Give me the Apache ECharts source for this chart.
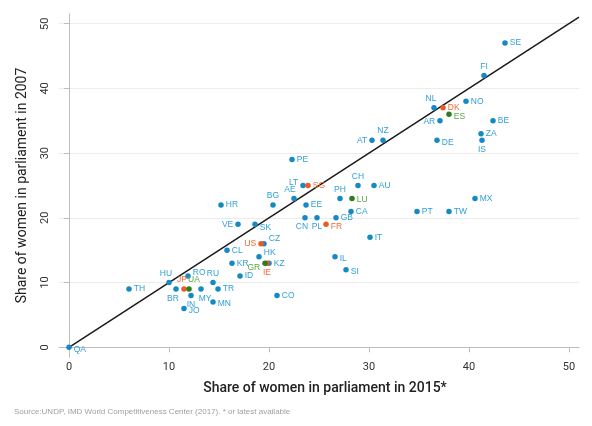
<!DOCTYPE html>
<html>
<head>
<meta charset="utf-8">
<script src="https://cdn.jsdelivr.net/npm/echarts@6/dist/echarts.min.js"></script>
<style>
html,body{margin:0;padding:0;background:#fff;}
#chart{width:592px;height:426px;}
</style>
</head>
<body>
<div id="chart"></div>
<script>
// country codes, 2015 share (x) and 2007 share (y)
var countries = ['SE','FI','NO','NL','DK','ES','AR','BE','ZA','AT','NZ','DE','IS','PE','LT','SG','CH','AU','AE','PH','LU','HR','BG','EE','MX','CA','PT','TW','CN','PL','GB','FR','VE','SK','IT','CZ','US','CL','IL','HK','KR','GR','IE','KZ','SI','ID','RO','HU','RU','TH','BR','JP','UA','MY','TR','IN','CO','MN','JO','QA'];
var share2015 = [43.6,41.5,39.7,36.5,37.4,38.0,37.1,42.4,41.2,30.3,31.4,36.8,41.3,22.3,23.4,23.9,28.9,30.5,22.5,27.1,28.3,15.2,20.4,23.7,40.6,28.2,34.8,38.0,23.6,24.8,26.7,25.7,16.9,18.6,30.1,19.5,19.2,15.8,26.6,19.0,16.3,19.6,19.8,20.0,27.7,17.1,11.9,10.0,14.4,6.0,10.7,11.5,12.0,13.2,14.9,12.2,20.8,14.4,11.5,0];
var share2007 = [47,42,38,37,37,36,35,35,33,32,32,32,32,29,25,25,25,25,23,23,23,22,22,22,23,21,21,21,20,20,20,19,19,19,17,16,16,15,14,14,13,13,13,13,12,11,11,10,10,9,9,9,9,9,9,8,8,7,6,0];
var orangeGroup = ['DK','SG','FR','US','IE','JP'];
var greenGroup = ['ES','LU','GR','UA'];
var ticks = [0,10,20,30,40,50];

// label placement (style only)
var labelPos = {
	NL:['top',[-3,0]], AR:['left',[0,1]], IS:['bottom',[0,0]], FI:['top',[0,0]], VE:['left',[0,0]],
	HU:['top',[-3,0]], BR:['bottom',[-3,0]], JP:['top',[-2,0]], UA:['top',[5,0]], IN:['bottom',[0,0]],
	JO:['right',[0,2]], MY:['bottom',[4,0]], MN:['right',[0,2]], RU:['top',[0,0]], RO:['right',[0,-3]],
	QA:['right',[0,2]], GR:['left',[0,4]], IE:['bottom',[0,0]], HK:['right',[0,-4]], CZ:['right',[0,-5]],
	US:['left',[0,0]], SK:['right',[0,3]], LT:['left',[0,-3]], CH:['top',[0,0]], AE:['top',[-4,0]],
	PH:['top',[0,0]], BG:['top',[0,0]], CN:['bottom',[-3,0]], PL:['bottom',[0,0]], FR:['right',[0,2]],
	IL:['right',[0,2]], SI:['right',[0,2]], ES:['right',[0,2]], AT:['left',[0,0]], NZ:['top',[0,0]],
	DE:['right',[0,2]], LU:['right',[0,1]], KZ:['right',[0,0]]
};

var colors = {
	blue:{dot:'#1589c6', text:'#2fa0d6'},
	orange:{dot:'#ee5a24', text:'#f06a35'},
	green:{dot:'#2c7d1f', text:'#5aa843'}
};

var buildData = function (group) {
	var out = [];
	countries.forEach(function (c, i) {
		var g = orangeGroup.indexOf(c) >= 0 ? 'orange' : (greenGroup.indexOf(c) >= 0 ? 'green' : 'blue');
		if (g !== group) return;
		var p = labelPos[c] || ['right',[0,0]];
		out.push({
			value:[share2015[i], share2007[i], c],
			label:{position:p[0], offset:p[1]}
		});
	});
	return out;
};

var scatterSeries = function (group) {
	return {
		type:'scatter',
		symbolSize:5.5,
		z:3,
		itemStyle:{color:colors[group].dot, opacity:1},
		label:{
			show:true,
			formatter:function (p) { return p.value[2]; },
			color:colors[group].text,
			fontSize:8.5,
			fontFamily:'Liberation Sans',
			distance:2
		},
		data:buildData(group)
	};
};

var chart = echarts.init(document.getElementById('chart'));
var axisFont = 'Roboto';
var option = {
	animation:false,
	grid:{left:59, right:13, top:14, bottom:69},
	xAxis:{
		type:'value',
		min:-1,
		max:51,
		name:'Share of women in parliament in 2015*',
		nameLocation:'middle',
		nameGap:24,
		nameTextStyle:{fontSize:14, fontWeight:500, color:'#222', fontFamily:axisFont, padding:[0,0,0,12]},
		axisLine:{lineStyle:{color:'#bdbdbd'}},
		axisTick:{show:true, length:5, customValues:ticks, lineStyle:{color:'#bdbdbd'}},
		axisLabel:{customValues:ticks, fontSize:11, color:'#333', margin:5, fontFamily:axisFont},
		splitLine:{show:false}
	},
	yAxis:{
		type:'value',
		min:-1.5,
		max:51.5,
		name:'Share of women in parliament in 2007',
		nameLocation:'middle',
		nameGap:30,
		nameTextStyle:{fontSize:14, fontWeight:'normal', color:'#222', fontFamily:axisFont},
		axisLine:{show:true, lineStyle:{color:'#bdbdbd'}},
		axisTick:{show:true, length:5, customValues:ticks, lineStyle:{color:'#bdbdbd'}},
		axisLabel:{customValues:ticks, rotate:90, fontSize:11, color:'#333', margin:8, fontFamily:axisFont},
		splitLine:{show:true, lineStyle:{color:'#ececec'}}
	},
	graphic:[{
		type:'text',
		left:14,
		top:408,
		style:{
			text:'Source:UNDP, IMD World Competitiveness Center (2017). * or latest available',
			fontSize:8,
			fill:'#a0a0a0',
			fontFamily:'Liberation Sans'
		}
	}],
	series:[
		{
			type:'line',
			data:[[0,0],[51,51]],
			symbol:'none',
			z:2,
			lineStyle:{color:'#1a1a1a', width:1.5}
		},
		scatterSeries('blue'),
		scatterSeries('orange'),
		scatterSeries('green')
	]
};
chart.setOption(option);
</script>
</body>
</html>
